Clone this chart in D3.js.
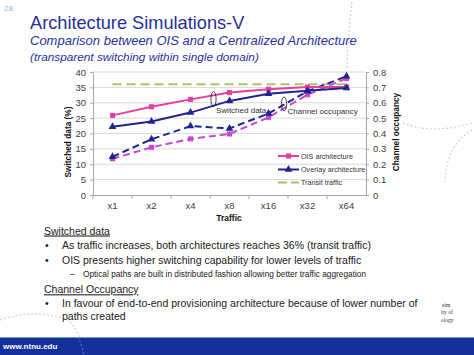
<!DOCTYPE html>
<html><head><meta charset="utf-8">
<script src="https://cdn.jsdelivr.net/npm/d3@7"></script>
<style>html,body{margin:0;padding:0;background:#fff;overflow:hidden}svg{display:block}</style>
</head><body>
<script>
const categories = ["x1","x2","x4","x8","x16","x32","x64"];
const oisSwitched = [25.9, 28.7, 31.1, 33.3, 34.4, 35.1, 35.1];
const overlaySwitched = [22.2, 23.9, 26.8, 30.6, 32.9, 33.9, 34.8];
const transitTraffic = [36, 36, 36, 36, 36, 36, 36];
const oisOccupancy = [0.236, 0.31, 0.365, 0.397, 0.505, 0.652, 0.758];
const overlayOccupancy = [0.249, 0.362, 0.448, 0.433, 0.53, 0.675, 0.772];
const leftTicks = [0,5,10,15,20,25,30,35,40];
const rightTicks = [0,0.1,0.2,0.3,0.4,0.5,0.6,0.7,0.8];
const legendLabels = ["OIS architecture","Overlay architecture","Transit traffic"];

const W = 474, H = 355;
const FONT = "'Liberation Sans', Arial, sans-serif";
const svg = d3.select("body").append("svg").attr("width", W).attr("height", H);
svg.append("rect").attr("width", W).attr("height", H).attr("fill", "#fff");

// decorative faint dashed arcs
const deco = svg.append("g").attr("fill","none").attr("stroke","#cfcfcf").attr("stroke-width",1.2).attr("stroke-dasharray","2,2");
deco.append("path").attr("d","M352,2 Q348,35 347,68");
deco.append("path").attr("d","M403,123 Q432,135 472,123");
deco.append("path").attr("d","M472,130 Q446,145 445,182");
deco.append("path").attr("d","M0,320 Q35,308 68,320 Q80,332 84,352");

const titleColor = "#27309a";
svg.append("text").attr("x",4).attr("y",11).attr("font-family",FONT).attr("font-size",8).attr("fill","#8fb6dc").text("28");
svg.append("text").attr("x",30).attr("y",28.5).attr("font-family",FONT).attr("font-size",18.2).attr("fill",titleColor).text("Architecture Simulations-V");
svg.append("text").attr("x",30).attr("y",45).attr("font-family",FONT).attr("font-size",13).attr("font-style","italic").attr("fill",titleColor).text("Comparison between OIS and a Centralized Architecture");
svg.append("text").attr("x",30).attr("y",61).attr("font-family",FONT).attr("font-size",11.8).attr("font-style","italic").attr("fill",titleColor).text("(transparent switching within single domain)");

// chart
const x = d3.scaleBand().domain(categories).range([93, 366]);
const yL = d3.scaleLinear().domain([0,40]).range([195, 72]);
const yR = d3.scaleLinear().domain([0,0.8]).range([195, 72]);
const cx = c => x(c) + x.bandwidth()/2;

const g = svg.append("g");
// gridlines
g.selectAll(".grid").data(leftTicks.filter(d=>d>0)).join("line")
  .attr("x1",93).attr("x2",366).attr("y1",d=>yL(d)).attr("y2",d=>yL(d))
  .attr("stroke","#d9d9d9").attr("stroke-width",1);

const axisColor = "#a6a6a6";
const left = g.append("g").attr("transform","translate(93,0)")
  .call(d3.axisLeft(yL).tickValues(leftTicks).tickSize(3).tickPadding(4));
const right = g.append("g").attr("transform","translate(366,0)")
  .call(d3.axisRight(yR).tickValues(rightTicks).tickSize(3).tickPadding(4).tickFormat(d => d===0 ? "0" : d3.format(".1f")(d)));
const bottom = g.append("g").attr("transform","translate(0,195)")
  .call(d3.axisBottom(x).tickSize(0).tickPadding(7));
[left,right,bottom].forEach(a => {
  a.select(".domain").attr("stroke",axisColor);
  a.selectAll(".tick line").attr("stroke",axisColor);
  a.selectAll("text").attr("font-family",FONT).attr("font-size",9.5).attr("fill","#404040");
});
// category boundary ticks on x axis
g.selectAll(".bt").data(categories.slice(1)).join("line")
  .attr("x1",d=>x(d)).attr("x2",d=>x(d)).attr("y1",195).attr("y2",199).attr("stroke",axisColor);
g.append("line").attr("x1",93).attr("x2",93).attr("y1",195).attr("y2",199).attr("stroke",axisColor);

// axis titles
svg.append("text").attr("transform","translate(71,142) rotate(-90)").attr("text-anchor","middle")
  .attr("font-family",FONT).attr("font-size",8.3).attr("font-weight","bold").attr("fill","#111").text("Switched data (%)");
svg.append("text").attr("transform","translate(399,132) rotate(-90)").attr("text-anchor","middle")
  .attr("font-family",FONT).attr("font-size",8.3).attr("font-weight","bold").attr("fill","#111").text("Channel occupancy");
svg.append("text").attr("x",229).attr("y",220.5).attr("text-anchor","middle")
  .attr("font-family",FONT).attr("font-size",8.5).attr("font-weight","bold").attr("fill","#111").text("Traffic");

const pink = "#e43f9f", purple = "#c848d0", navy = "#1f2590", green = "#a9c26b";
const tri = d3.symbol().type(d3.symbolTriangle).size(26);
const sq = d3.symbol().type(d3.symbolSquare).size(26);

function series(vals, scale, color, dash, sym) {
  const line = d3.line().x((d,i)=>cx(categories[i])).y(d=>scale(d));
  g.append("path").attr("d", line(vals)).attr("fill","none").attr("stroke",color)
    .attr("stroke-width",2).attr("stroke-dasharray",dash);
  if (sym) g.selectAll(null).data(vals).join("path")
    .attr("d", sym).attr("transform",(d,i)=>`translate(${cx(categories[i])},${scale(d)})`).attr("fill",color);
}
series(transitTraffic, yL, green, "9,5", null);
series(oisOccupancy, yR, purple, "7,4", sq);
series(overlayOccupancy, yR, navy, "7,4", tri);
series(oisSwitched, yL, pink, null, sq);
series(overlaySwitched, yL, navy, null, tri);

// annotations
g.append("ellipse").attr("cx",213.5).attr("cy",99).attr("rx",2.6).attr("ry",7.5).attr("fill","none").attr("stroke","#222").attr("stroke-width",0.8);
g.append("text").attr("x",216).attr("y",112.5).attr("font-family",FONT).attr("font-size",8).attr("fill","#333").text("Switched data");
g.append("ellipse").attr("cx",284).attr("cy",104).attr("rx",2.6).attr("ry",7).attr("fill","none").attr("stroke","#222").attr("stroke-width",0.8);
g.append("text").attr("x",287.5).attr("y",114).attr("font-family",FONT).attr("font-size",8).attr("fill","#333").text("Channel occupancy");

// legend
const legY = [156, 169.5, 182.5];
const legColors = [pink, navy, green];
const legSyms = [sq, tri, null];
legendLabels.forEach((lab,i) => {
  const lg = g.append("g").attr("transform",`translate(278,${legY[i]})`);
  lg.append("line").attr("x1",0).attr("x2",21).attr("stroke",legColors[i]).attr("stroke-width",2)
    .attr("stroke-dasharray", i===2 ? "9,4" : null);
  if (legSyms[i]) lg.append("path").attr("d",legSyms[i]).attr("transform","translate(10.5,0)").attr("fill",legColors[i]);
  lg.append("text").attr("x",23).attr("y",2.7).attr("font-family",FONT).attr("font-size",7.2).attr("fill","#333").text(lab);
});

// body text
const tc = "#1a1a1a";
const body = svg.append("g").attr("font-family",FONT).attr("fill",tc);
body.append("text").attr("x",44).attr("y",234.5).attr("font-size",10.5).attr("text-decoration","underline").text("Switched data");
body.append("text").attr("x",45).attr("y",249.3).attr("font-size",10.5).text("•");
body.append("text").attr("x",62).attr("y",249.3).attr("font-size",10.5).text("As traffic increases, both architectures reaches 36% (transit traffic)");
body.append("text").attr("x",45).attr("y",263.7).attr("font-size",10.5).text("•");
body.append("text").attr("x",62).attr("y",263.7).attr("font-size",10.5).text("OIS presents higher switching capability for lower levels of traffic");
body.append("text").attr("x",70).attr("y",277).attr("font-size",8.3).text("–");
body.append("text").attr("x",83).attr("y",277).attr("font-size",8.3).text("Optical paths are built in distributed fashion allowing better traffic aggregation");
body.append("text").attr("x",44).attr("y",293.3).attr("font-size",10.5).attr("text-decoration","underline").text("Channel Occupancy");
body.append("text").attr("x",45).attr("y",306.7).attr("font-size",10.5).text("•");
body.append("text").attr("x",62).attr("y",306.7).attr("font-size",10.5).text("In favour of end-to-end provisioning architecture because of lower number of");
body.append("text").attr("x",62).attr("y",320).attr("font-size",10.5).text("paths created");

// logo text
const logo = svg.append("g").attr("font-family","'Liberation Serif', serif").attr("font-size",5.5).attr("fill","#333");
logo.append("text").attr("x",442).attr("y",306.5).text("eim");
logo.append("text").attr("x",441).attr("y",314).text("ity of");
logo.append("text").attr("x",441).attr("y",321.5).text("ology");

// footer bar
svg.append("rect").attr("x",0).attr("y",337.5).attr("width",W).attr("height",H-337.5).attr("fill","#13309b");
svg.append("path").attr("d","M78,337 Q82,345 84,355").attr("fill","none").attr("stroke","#6d83c8").attr("stroke-width",1).attr("stroke-dasharray","2,2");
svg.append("text").attr("x",3).attr("y",348.5).attr("font-family",FONT).attr("font-size",8).attr("font-weight","bold").attr("fill","#fff").text("www.ntnu.edu");
</script>
</body></html>
